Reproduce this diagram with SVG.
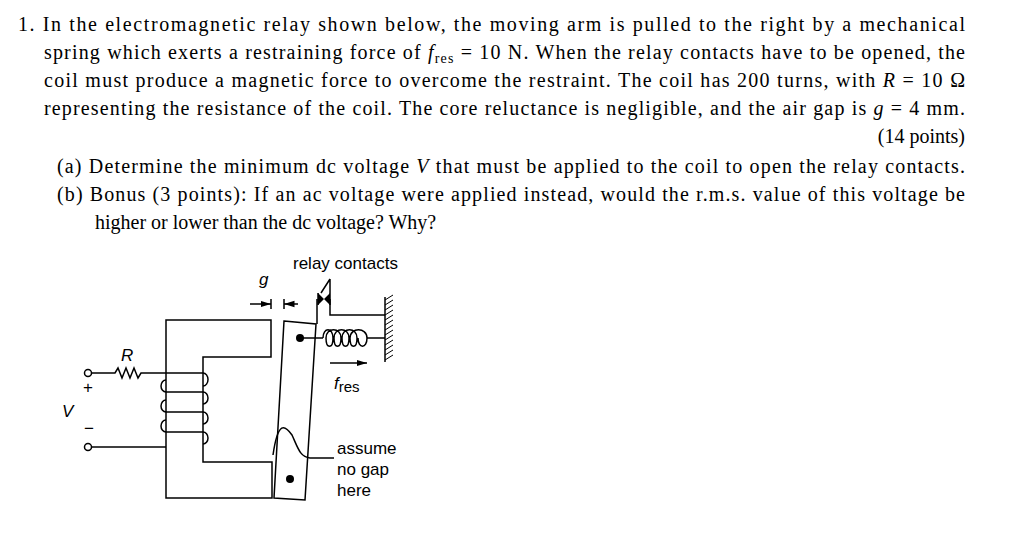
<svg xmlns="http://www.w3.org/2000/svg" width="1017" height="534" viewBox="0 0 1017 534">
<style>
.t{font-family:"Liberation Serif",serif;font-size:20px;fill:#000}
.s{font-family:"Liberation Sans",Arial,sans-serif;font-size:17px;fill:#000}
.l{fill:none;stroke:#000;stroke-width:1.5}
</style>
<defs>
<marker id="a" viewBox="0 0 10 10" refX="10" refY="5" markerWidth="7" markerHeight="7" orient="auto"><path d="M0,2 L10,5 L0,8 Z" fill="#000"/></marker>
</defs>
<rect width="1017" height="534" fill="#fff"/>
<g id="text">
<text class="t" x="18" y="31" textLength="947" lengthAdjust="spacing">1. In the electromagnetic relay shown below, the moving arm is pulled to the right by a mechanical</text>
<text class="t" x="44" y="59" textLength="921" lengthAdjust="spacing">spring which exerts a restraining force of <tspan font-style="italic">f</tspan><tspan font-size="14" dy="4">res</tspan><tspan dy="-4"> = 10 N. When the relay contacts have to be opened, the</tspan></text>
<text class="t" x="44" y="87" textLength="921" lengthAdjust="spacing">coil must produce a magnetic force to overcome the restraint. The coil has 200 turns, with <tspan font-style="italic">R</tspan> = 10 Ω</text>
<text class="t" x="44" y="115" textLength="921" lengthAdjust="spacing">representing the resistance of the coil. The core reluctance is negligible, and the air gap is <tspan font-style="italic">g</tspan> = 4 mm.</text>
<text class="t" x="965" y="143" text-anchor="end">(14 points)</text>
<text class="t" x="57" y="173" textLength="908" lengthAdjust="spacing">(a) Determine the minimum dc voltage <tspan font-style="italic">V</tspan> that must be applied to the coil to open the relay contacts.</text>
<text class="t" x="57" y="201" textLength="908" lengthAdjust="spacing">(b) Bonus (3 points): If an ac voltage were applied instead, would the r.m.s. value of this voltage be</text>
<text class="t" x="95" y="229">higher or lower than the dc voltage? Why?</text>
</g>
<g id="core"><path class="l" d="M271,320 H166 V498 H272 V462 H203 V357 H271 Z"/></g>
<g id="armature">
<path class="l" d="M284,321 L316,324 L305,500 L274,498 Z"/>
<circle cx="290" cy="479" r="4" fill="#000"/>
<circle cx="300" cy="338" r="4" fill="#000"/>
</g>
<g id="contacts">
<path class="l" d="M317,324 V299 M330,299 V315 H385"/>
<path d="M318,293 L324,299 L318,305 Z M330,293 L324,299 L330,305 Z" fill="#000"/>
<path class="l" d="M318,293 V305 M330,293 V305"/>
<text class="s" x="293" y="269">relay contacts</text>
<path class="l" d="M330,279 L321,293 M330,279 V293" stroke-width="1"/>
</g>
<g id="wall">
<path class="l" d="M385,297 V362"/>
<path stroke="#000" stroke-width="1" d="M385,300 l8,-5 M385,305 l8,-5 M385,310 l8,-5 M385,315 l8,-5 M385,320 l8,-5 M385,325 l8,-5 M385,330 l8,-5 M385,335 l8,-5 M385,340 l8,-5 M385,345 l8,-5 M385,350 l8,-5 M385,355 l8,-5 M385,360 l8,-5"/>
</g>
<g id="spring">
<path class="l" d="M300,338 H323 M367,338 H385"/>
<path class="l" stroke-width="1.2" d="M323,338 C323,327 333,327 333,338 C333,349 326,349 326,338 C326,327 341,327 341,338 C341,349 334,349 334,338 C334,327 349,327 349,338 C349,349 342,349 342,338 C342,327 357,327 357,338 C357,349 350,349 350,338 C350,327 367,327 367,338 C367,349 358,349 358,338"/>
</g>
<g id="force">
<path class="l" d="M330,363 H367" marker-end="url(#a)"/>
<text class="s" x="334" y="389" font-style="italic">f<tspan font-style="normal" font-size="15" dy="3">res</tspan></text>
</g>
<g id="gap">
<text class="s" x="259" y="285" font-style="italic" font-size="19">g</text>
<path class="l" stroke-width="1" d="M250,304 H271" marker-end="url(#a)"/>
<path class="l" stroke-width="1" d="M298,304 H284" marker-end="url(#a)"/>
<path class="l" stroke-width="1" d="M271,299 V309 M284,299 V309"/>
</g>
<g id="circuit">
<circle cx="88" cy="373" r="3.5" fill="#fff" stroke="#000" stroke-width="1.5"/>
<circle cx="88" cy="447" r="3.5" fill="#fff" stroke="#000" stroke-width="1.5"/>
<path class="l" d="M92,373 H115 l3,-5 l4,10 l4,-10 l4,10 l4,-10 l4,10 l3,-5 H203"/>
<path class="l" d="M92,447 H166"/>
<text class="s" x="121" y="361" font-style="italic" font-size="19">R</text>
<text class="s" x="83" y="393">+</text>
<text class="s" x="62" y="417" font-style="italic" font-size="19">V</text>
<text class="s" x="84" y="434">−</text>
<path class="l" stroke-width="1.2" d="M203,373 a5,6.5 0 0 1 0,13 M166,380 a5,6 0 0 0 0,12 H203 a5,6 0 0 1 0,12 M166,400 a5,6 0 0 0 0,12 H203 a5,6 0 0 1 0,12 M166,420 a5,6 0 0 0 0,12 H203 a5,6 0 0 1 0,12"/>
</g>
<g id="note">
<path class="l" stroke-width="1" d="M273,455 C278,420 285,425 292,435 C298,448 300,457 310,458 H334"/>
<text class="s" x="337" y="454">assume</text>
<text class="s" x="337" y="475">no gap</text>
<text class="s" x="337" y="496">here</text>
</g>
</svg>
